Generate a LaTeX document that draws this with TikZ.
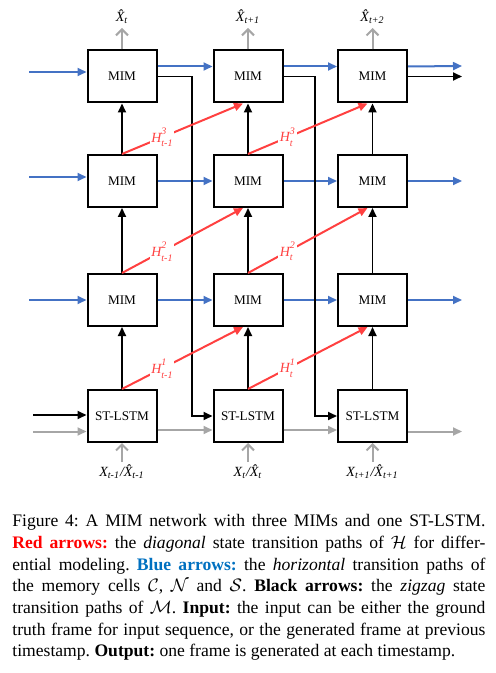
\documentclass[tikz,border=0pt]{standalone}
\usepackage{fontspec}
\setmainfont{Liberation Serif}
\usetikzlibrary{arrows.meta}
\definecolor{ablue}{RGB}{68,114,196}
\definecolor{ared}{RGB}{255,64,64}
\definecolor{agray}{RGB}{166,166,166}
\definecolor{capred}{RGB}{255,0,0}
\definecolor{capblue}{RGB}{0,112,192}
\newcommand{\hatX}{\^{X}}
\newcommand{\supsubsc}[2]{\raisebox{-0.33em}{\fontsize{5}{4.6}\selectfont\shortstack[l]{#1\\#2}}}
\tikzset{
  cell/.style={draw, line width=1pt, minimum width=34.5pt, minimum height=26pt, inner sep=0pt, fill=white, font=\fontsize{6.6}{7}\selectfont},
  filltip/.style={-{Triangle[length=4.5pt,width=4pt]}},
  bluearr/.style={ablue, line width=1pt, filltip},
  blackarr/.style={black, line width=0.9pt, filltip},
  grayarr/.style={agray, line width=1pt, filltip},
  grayopen/.style={agray, line width=1pt, -{Straight Barb[length=3pt,width=6pt]}},
  redarr/.style={ared, line width=1pt, filltip},
  hlab/.style={fill=white, inner sep=0.8pt, text=ared, font=\fontsize{7}{8}\selectfont\itshape},
  xlab/.style={inner sep=0pt, font=\fontsize{7}{8}\selectfont\itshape},
}
\begin{document}
\begin{tikzpicture}[x=0.5pt,y=-0.5pt]
\useasboundingbox (0,0) rectangle (496,673);
% boxes
\foreach \c/\x in {1/122,2/248,3/372.5}{
  \node[cell] (m\c1) at (\x,76.5) {MIM};
  \node[cell] (m\c2) at (\x,181) {MIM};
  \node[cell] (m\c3) at (\x,300) {MIM};
  \node[cell] (s\c) at (\x,416) {ST-LSTM};
  \draw[blackarr] (s\c.north) -- (m\c3.south);
  \draw[blackarr] (m\c3.north) -- (m\c2.south);
  \draw[blackarr] (m\c2.north) -- (m\c1.south);
}
% top outputs
\node[xlab] (xo1) at (122,17) {\hatX\textsubscript{t}};
\node[xlab] (xo2) at (248,17) {\hatX\textsubscript{t+1}};
\node[xlab] (xo3) at (372.5,17) {\hatX\textsubscript{t+2}};
\coordinate (a1) at (122,28);
\coordinate (a2) at (248,28);
\coordinate (a3) at (372.5,28);
\draw[grayopen] (m11.north) -- (a1);
\draw[grayopen] (m21.north) -- (a2);
\draw[grayopen] (m31.north) -- (a3);
% bottom inputs
\node[xlab] (xi1) at (122,472) {X\textsubscript{t-1}/\hatX\textsubscript{t-1}};
\node[xlab] (xi2) at (248,472) {X\textsubscript{t}/\hatX\textsubscript{t}};
\node[xlab] (xi3) at (372.5,472) {X\textsubscript{t+1}/\hatX\textsubscript{t+1}};
\coordinate (b1) at (122,462);
\coordinate (b2) at (248,462);
\coordinate (b3) at (372.5,462);
\draw[grayopen] (b1) -- (s1.south);
\draw[grayopen] (b2) -- (s2.south);
\draw[grayopen] (b3) -- (s3.south);
% blue horizontal
\coordinate (i1) at (29,72);
\coordinate (i2) at (29,177);
\coordinate (i3) at (29,300);
\draw[bluearr] (i1) -- (i1 -| m11.west);
\draw[bluearr] (i2) -- (i2 -| m12.west);
\draw[bluearr] (i3) -- (i3 -| m13.west);
\draw[bluearr] ([yshift=5pt]m11.east) -- ([yshift=5pt]m21.west);
\draw[bluearr] ([yshift=5pt]m21.east) -- ([yshift=5pt]m31.west);
\coordinate (o1b) at (462,66);
\draw[bluearr] ([yshift=5pt]m31.east) -- (o1b);
\draw[bluearr] (m12.east) -- (m22.west);
\draw[bluearr] (m22.east) -- (m32.west);
\coordinate (o2) at (462,181);
\draw[bluearr] (m32.east) -- (o2);
\draw[bluearr] (m13.east) -- (m23.west);
\draw[bluearr] (m23.east) -- (m33.west);
\coordinate (o3) at (462,300);
\draw[bluearr] (m33.east) -- (o3);
% black zigzag
\coordinate (z1) at (192,76.5);
\coordinate (z2) at (315,76.5);
\draw[blackarr] (m11.east) -- (z1) |- (s2.west);
\draw[blackarr] (m21.east) -- (z2) |- (s3.west);
\coordinate (o1k) at (462,76.5);
\draw[blackarr] (m31.east) -- (o1k);
\coordinate (ik) at (33,415);
\draw[blackarr] (ik) -- (ik -| s1.west);
% gray ST-LSTM
\coordinate (ig) at (33,431.5);
\draw[grayarr] (ig) -- (ig -| s1.west);
\draw[grayarr] ([yshift=-7pt]s1.east) -- ([yshift=-7pt]s2.west);
\draw[grayarr] ([yshift=-7pt]s2.east) -- ([yshift=-7pt]s3.west);
\coordinate (og) at (462,431.5);
\draw[grayarr] (og -| s3.east) -- (og);
% red diagonals
\draw[redarr] (m12.north) -- node[hlab,pos=0.33] {H\supsubsc{3}{t-1}} ([xshift=-2.5pt]m21.south);
\draw[redarr] (m22.north) -- node[hlab,pos=0.33] {H\supsubsc{3}{t}} ([xshift=-2.5pt]m31.south);
\draw[redarr] (m13.north) -- node[hlab,pos=0.33] {H\supsubsc{2}{t-1}} ([xshift=-2.5pt]m22.south);
\draw[redarr] (m23.north) -- node[hlab,pos=0.33] {H\supsubsc{2}{t}} ([xshift=-2.5pt]m32.south);
\draw[redarr] (s1.north) -- node[hlab,pos=0.33] {H\supsubsc{1}{t-1}} ([xshift=-2.5pt]m23.south);
\draw[redarr] (s2.north) -- node[hlab,pos=0.33] {H\supsubsc{1}{t}} ([xshift=-2.5pt]m33.south);
% caption
\node[anchor=north west, inner sep=0pt, text width=236.5pt, align=justify,
      font=\fontsize{8.8}{10.85}\selectfont] (cap) at (12,514) {\frenchspacing%
Figure 4: A MIM network with three MIMs and one ST-LSTM.\linebreak
{\color{capred}\bfseries Red arrows:} the \textit{diagonal} state transition paths of $\mathcal{H}$ for differ-\linebreak
ential modeling. {\color{capblue}\bfseries Blue arrows:} the \textit{horizontal} transition paths of\linebreak
the memory cells $\mathcal{C}$, $\mathcal{N}$ and $\mathcal{S}$. \textbf{Black arrows:} the \textit{zigzag} state\linebreak
transition paths of $\mathcal{M}$. \textbf{Input:} the input can be either the ground\linebreak
truth frame for input sequence, or the generated frame at previous\linebreak
timestamp. \textbf{Output:} one frame is generated at each timestamp.};
\end{tikzpicture}
\end{document}
